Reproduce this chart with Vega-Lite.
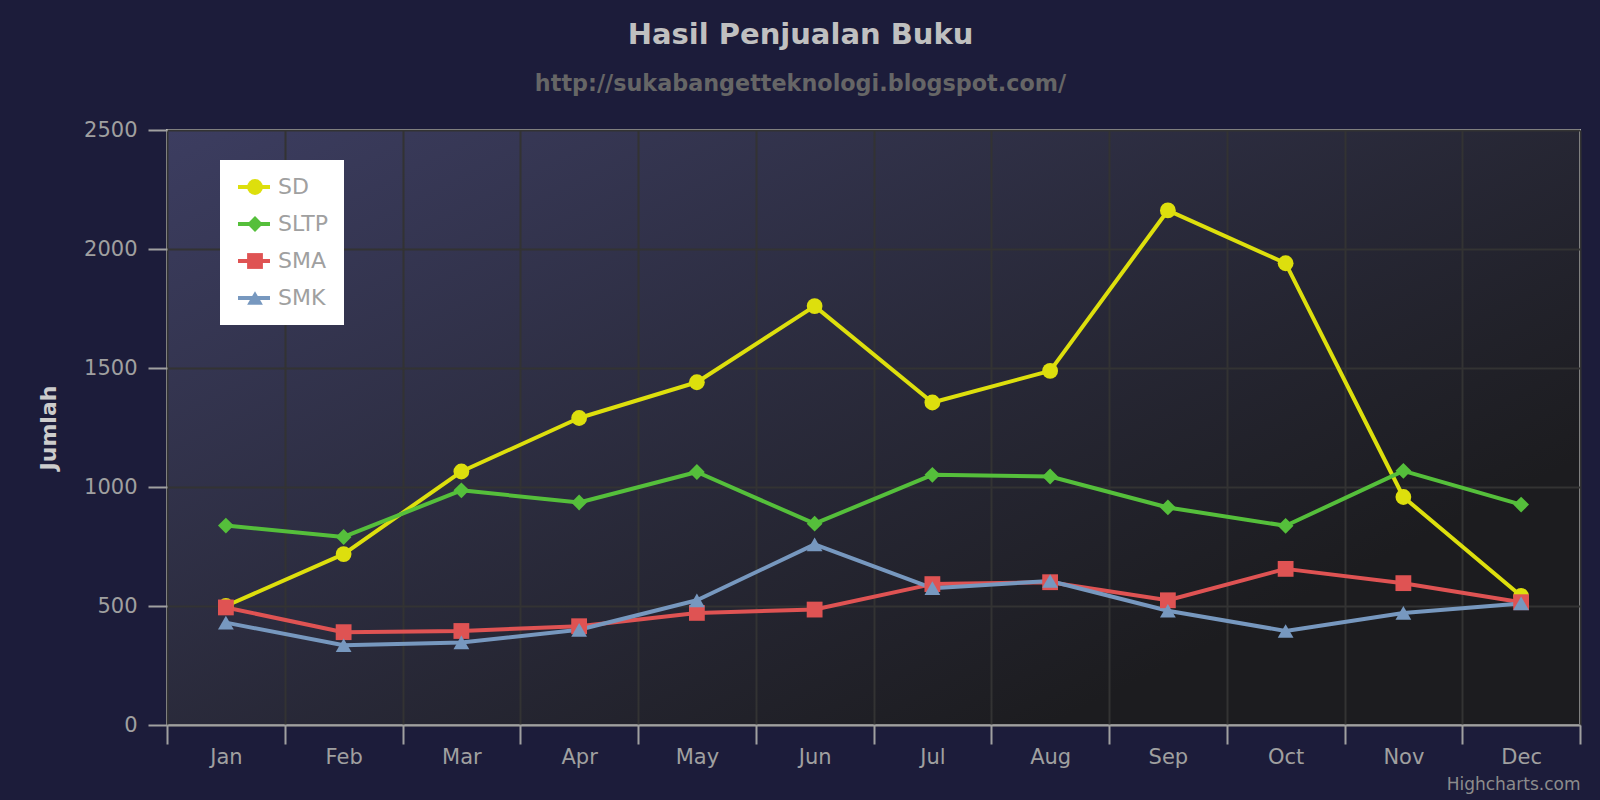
{
  "$schema": "https://vega.github.io/schema/vega-lite/v6.json",
  "description": "Hasil Penjualan Buku per bulan untuk SD, SLTP, SMA dan SMK",
  "autosize": "none",
  "width": 1413,
  "height": 595,
  "padding": {"left": 167, "top": 130, "right": 20, "bottom": 75},
  "background": "#1c1c3a",
  "title": {
    "text": "Hasil Penjualan Buku",
    "subtitle": "http://sukabangetteknologi.blogspot.com/",
    "anchor": "middle",
    "dx": -73,
    "offset": 24,
    "font": "DejaVu Sans",
    "fontSize": 29,
    "fontWeight": "bold",
    "color": "#c0c0c0",
    "subtitleFont": "DejaVu Sans",
    "subtitleFontSize": 22.3,
    "subtitleFontWeight": "bold",
    "subtitleColor": "#666666",
    "subtitlePadding": 23
  },
  "data": {
    "values": [
      {"bulan": "Jan", "jenjang": "SD", "jumlah": 500},
      {"bulan": "Feb", "jenjang": "SD", "jumlah": 718},
      {"bulan": "Mar", "jenjang": "SD", "jumlah": 1065},
      {"bulan": "Apr", "jenjang": "SD", "jumlah": 1290},
      {"bulan": "May", "jenjang": "SD", "jumlah": 1440},
      {"bulan": "Jun", "jenjang": "SD", "jumlah": 1760},
      {"bulan": "Jul", "jenjang": "SD", "jumlah": 1355},
      {"bulan": "Aug", "jenjang": "SD", "jumlah": 1488},
      {"bulan": "Sep", "jenjang": "SD", "jumlah": 2162},
      {"bulan": "Oct", "jenjang": "SD", "jumlah": 1940},
      {"bulan": "Nov", "jenjang": "SD", "jumlah": 958},
      {"bulan": "Dec", "jenjang": "SD", "jumlah": 542},
      {"bulan": "Jan", "jenjang": "SLTP", "jumlah": 838},
      {"bulan": "Feb", "jenjang": "SLTP", "jumlah": 790},
      {"bulan": "Mar", "jenjang": "SLTP", "jumlah": 986},
      {"bulan": "Apr", "jenjang": "SLTP", "jumlah": 935},
      {"bulan": "May", "jenjang": "SLTP", "jumlah": 1063},
      {"bulan": "Jun", "jenjang": "SLTP", "jumlah": 846},
      {"bulan": "Jul", "jenjang": "SLTP", "jumlah": 1051},
      {"bulan": "Aug", "jenjang": "SLTP", "jumlah": 1044},
      {"bulan": "Sep", "jenjang": "SLTP", "jumlah": 914},
      {"bulan": "Oct", "jenjang": "SLTP", "jumlah": 837},
      {"bulan": "Nov", "jenjang": "SLTP", "jumlah": 1068},
      {"bulan": "Dec", "jenjang": "SLTP", "jumlah": 926},
      {"bulan": "Jan", "jenjang": "SMA", "jumlah": 494},
      {"bulan": "Feb", "jenjang": "SMA", "jumlah": 390},
      {"bulan": "Mar", "jenjang": "SMA", "jumlah": 395},
      {"bulan": "Apr", "jenjang": "SMA", "jumlah": 415},
      {"bulan": "May", "jenjang": "SMA", "jumlah": 471},
      {"bulan": "Jun", "jenjang": "SMA", "jumlah": 485},
      {"bulan": "Jul", "jenjang": "SMA", "jumlah": 592},
      {"bulan": "Aug", "jenjang": "SMA", "jumlah": 600},
      {"bulan": "Sep", "jenjang": "SMA", "jumlah": 524},
      {"bulan": "Oct", "jenjang": "SMA", "jumlah": 656},
      {"bulan": "Nov", "jenjang": "SMA", "jumlah": 596},
      {"bulan": "Dec", "jenjang": "SMA", "jumlah": 516},
      {"bulan": "Jan", "jenjang": "SMK", "jumlah": 430},
      {"bulan": "Feb", "jenjang": "SMK", "jumlah": 335},
      {"bulan": "Mar", "jenjang": "SMK", "jumlah": 347},
      {"bulan": "Apr", "jenjang": "SMK", "jumlah": 400},
      {"bulan": "May", "jenjang": "SMK", "jumlah": 524},
      {"bulan": "Jun", "jenjang": "SMK", "jumlah": 759},
      {"bulan": "Jul", "jenjang": "SMK", "jumlah": 575},
      {"bulan": "Aug", "jenjang": "SMK", "jumlah": 605},
      {"bulan": "Sep", "jenjang": "SMK", "jumlah": 480},
      {"bulan": "Oct", "jenjang": "SMK", "jumlah": 395},
      {"bulan": "Nov", "jenjang": "SMK", "jumlah": 471},
      {"bulan": "Dec", "jenjang": "SMK", "jumlah": 511}
    ]
  },
  "encoding": {
    "x": {
      "field": "bulan",
      "type": "nominal",
      "sort": ["Jan", "Feb", "Mar", "Apr", "May", "Jun", "Jul", "Aug", "Sep", "Oct", "Nov", "Dec"],
      "scale": {"type": "band", "paddingInner": 0, "paddingOuter": 0},
      "axis": {
        "title": "Highcharts.com",
        "titleAnchor": "end",
        "titleAlign": "right",
        "titleFont": "DejaVu Sans",
        "titleFontSize": 17,
        "titleFontWeight": "normal",
        "titleColor": "#8c8c8c",
        "titlePadding": 9,
        "labelAngle": 0,
        "labelFont": "DejaVu Sans",
        "labelFontSize": 21,
        "labelColor": "#a0a0a0",
        "labelPadding": 2,
        "tickBand": "extent",
        "tickSize": 19,
        "tickWidth": 2,
        "tickColor": "#a0a0a0",
        "domainColor": "#a0a0a0",
        "domainWidth": 2,
        "grid": true,
        "gridColor": "#333333",
        "gridWidth": 2
      }
    },
    "y": {
      "field": "jumlah",
      "type": "quantitative",
      "scale": {"domain": [0, 2500], "nice": false},
      "axis": {
        "title": "Jumlah",
        "titleFont": "DejaVu Sans",
        "titleFontSize": 22,
        "titleFontWeight": "bold",
        "titleColor": "#cccccc",
        "titlePadding": 23,
        "values": [0, 500, 1000, 1500, 2000, 2500],
        "format": "d",
        "labelFont": "DejaVu Sans",
        "labelFontSize": 21,
        "labelColor": "#a0a0a0",
        "labelPadding": 11,
        "tickSize": 19,
        "tickWidth": 2,
        "tickColor": "#a0a0a0",
        "domain": false,
        "grid": true,
        "gridColor": "#333333",
        "gridWidth": 2
      }
    }
  },
  "layer": [
    {
      "mark": {"type": "line", "strokeWidth": 4, "strokeJoin": "round", "strokeCap": "round"},
      "encoding": {
        "color": {
          "field": "jenjang",
          "type": "nominal",
          "scale": {"range": ["#dddf0d", "#55bf3b", "#df5353", "#7798bf"]},
          "legend": {
            "title": null,
            "orient": "none",
            "legendX": 53,
            "legendY": 30,
            "symbolType": "stroke",
            "symbolSize": 1024,
            "symbolStrokeWidth": 4,
            "clipHeight": 22,
            "fillColor": "#ffffff",
            "padding": 16,
            "rowPadding": 15,
            "labelFont": "DejaVu Sans",
            "labelFontSize": 22,
            "labelColor": "#a0a0a0",
            "labelOffset": 6
          }
        }
      }
    },
    {
      "mark": {"type": "point", "filled": true, "size": 250, "opacity": 1, "strokeWidth": 0},
      "encoding": {
        "fill": {
          "field": "jenjang",
          "type": "nominal",
          "scale": {
            "domain": ["SD", "SLTP", "SMA", "SMK"],
            "range": ["#dddf0d", "#55bf3b", "#df5353", "#7798bf"]
          },
          "legend": {
            "title": null,
            "orient": "none",
            "legendX": 53,
            "legendY": 30,
            "symbolSize": 250,
            "symbolOffset": 8,
            "symbolOpacity": 1,
            "symbolStrokeWidth": 0,
            "clipHeight": 22,
            "padding": 16,
            "rowPadding": 15,
            "labelExpr": "''",
            "labelFontSize": 22,
            "labelOffset": 0
          }
        },
        "shape": {
          "field": "jenjang",
          "type": "nominal",
          "scale": {
            "domain": ["SD", "SLTP", "SMA", "SMK"],
            "range": ["circle", "diamond", "square", "triangle-up"]
          },
          "legend": {
            "title": null,
            "orient": "none",
            "legendX": 53,
            "legendY": 30,
            "symbolSize": 250,
            "symbolOffset": 8,
            "symbolOpacity": 1,
            "symbolStrokeWidth": 0,
            "clipHeight": 22,
            "padding": 16,
            "rowPadding": 15,
            "labelExpr": "''",
            "labelFontSize": 22,
            "labelOffset": 0
          }
        }
      }
    }
  ],
  "config": {
    "view": {
      "stroke": "#cccccc",
      "strokeWidth": 2,
      "fill": {
        "gradient": "linear",
        "x1": 0,
        "y1": 0,
        "x2": 0.86,
        "y2": 0.72,
        "stops": [
          {"offset": 0, "color": "#3c3d60"},
          {"offset": 1, "color": "#1c1c1f"}
        ]
      }
    }
  }
}
